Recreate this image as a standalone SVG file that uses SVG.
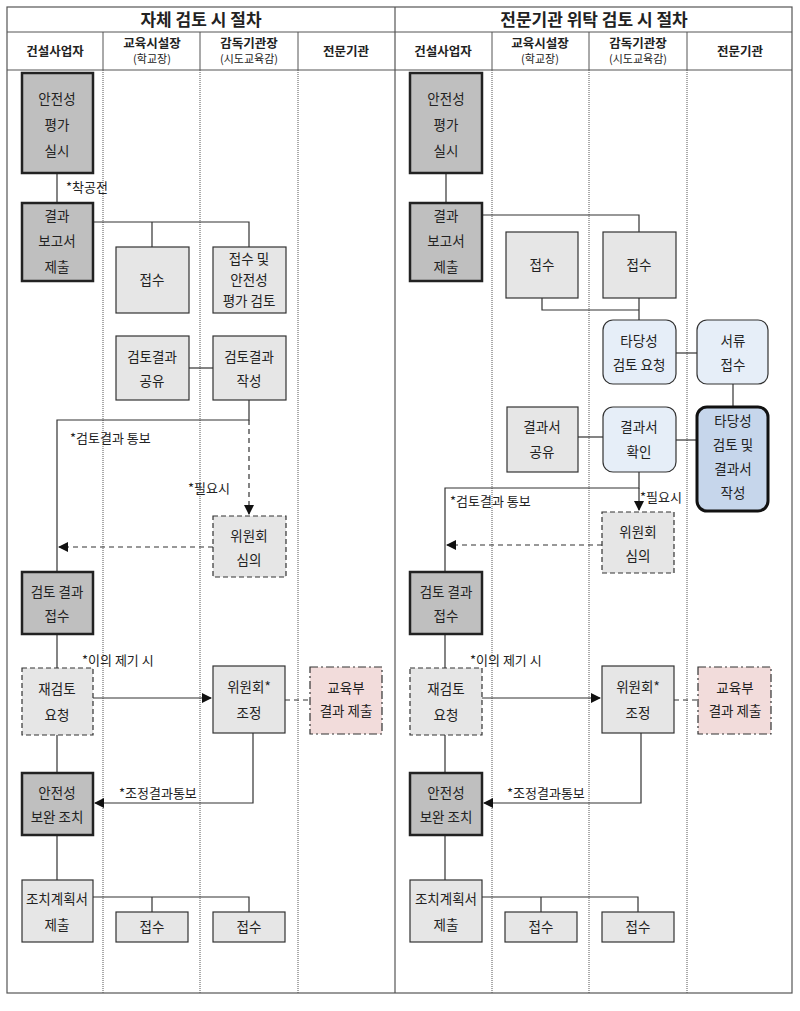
<svg xmlns="http://www.w3.org/2000/svg" width="800" height="1011" viewBox="0 0 800 1011">
<defs>
<style>
text{font-family:"Noto Sans CJK KR","Noto Sans",sans-serif;fill:#222;text-anchor:middle}
.t{font-size:17px;font-weight:bold}
.h{font-size:12.5px;font-weight:bold}
.s{font-size:11px}
.b{font-size:13.5px}
.l{font-size:13px;text-anchor:start}
.dk{fill:#bfbfbf;stroke:#222;stroke-width:2.5}
.lt{fill:#e6e6e6;stroke:#333;stroke-width:1.2}
.ds{fill:#e6e6e6;stroke:#333;stroke-width:1.2;stroke-dasharray:5 3}
.pk{fill:#f2dcdb;stroke:#333;stroke-width:1.2;stroke-dasharray:8 3 2 3}
.bl{fill:#e6eef8;stroke:#333;stroke-width:1.2}
.bb{fill:#c6d6eb;stroke:#111;stroke-width:3}
.ln{fill:none;stroke:#333;stroke-width:1.2}
.dl{fill:none;stroke:#333;stroke-width:1.2;stroke-dasharray:5 4}
.lane{stroke:#555;stroke-width:1;stroke-dasharray:1 1}
</style>
<marker id="a" markerWidth="10" markerHeight="10" refX="9" refY="5" orient="auto" markerUnits="userSpaceOnUse"><path d="M0,0L10,5L0,10z" fill="#111"/></marker>
</defs>
<rect width="800" height="1011" fill="#fff"/>
<g id="frame" fill="none" stroke="#555">
<rect x="7" y="7" width="785" height="986" stroke-width="1.2"/>
<line x1="395" y1="7" x2="395" y2="993" stroke-width="1.2"/>
<line x1="7" y1="32" x2="792" y2="32"/>
<line x1="7" y1="70" x2="792" y2="70"/>
<line x1="103" y1="32" x2="103" y2="70"/><line x1="200" y1="32" x2="200" y2="70"/><line x1="298" y1="32" x2="298" y2="70"/>
<line x1="492" y1="32" x2="492" y2="70"/><line x1="589" y1="32" x2="589" y2="70"/><line x1="687" y1="32" x2="687" y2="70"/>
<line class="lane" x1="103" y1="70" x2="103" y2="993"/><line class="lane" x1="200" y1="70" x2="200" y2="993"/><line class="lane" x1="298" y1="70" x2="298" y2="993"/>
<line class="lane" x1="492" y1="70" x2="492" y2="993"/><line class="lane" x1="589" y1="70" x2="589" y2="993"/><line class="lane" x1="687" y1="70" x2="687" y2="993"/>
</g>
<g id="headers">
<text class="t" x="201" y="26">자체 검토 시 절차</text>
<text class="t" x="594" y="26">전문기관 위탁 검토 시 절차</text>
<text class="h" x="55" y="56">건설사업자</text>
<text class="h" x="152" y="48">교육시설장</text><text class="s" x="152" y="63">(학교장)</text>
<text class="h" x="249" y="48">감독기관장</text><text class="s" x="249" y="63">(시도교육감)</text>
<text class="h" x="346" y="56">전문기관</text>
<text class="h" x="443" y="56">건설사업자</text>
<text class="h" x="540" y="48">교육시설장</text><text class="s" x="540" y="63">(학교장)</text>
<text class="h" x="638" y="48">감독기관장</text><text class="s" x="638" y="63">(시도교육감)</text>
<text class="h" x="740" y="56">전문기관</text>
</g>
<g id="connectors">
<line class="ln" x1="57" y1="173" x2="57" y2="203"/>
<path class="ln" d="M93,222H249V247M152,222V247"/>
<line class="ln" x1="189" y1="368" x2="213" y2="368"/>
<path class="ln" d="M249,400V420H57V572"/>
<path class="dl" d="M249,420V514" marker-end="url(#a)"/>
<path class="dl" d="M213,547H59" marker-end="url(#a)"/>
<line class="ln" x1="57" y1="634" x2="57" y2="668"/>
<path class="ln" d="M93,698H211" marker-end="url(#a)"/>
<path class="dl" d="M285,700H310"/>
<path class="ln" d="M253,733V803H95" marker-end="url(#a)"/>
<path class="ln" d="M57,735V773M57,835V880"/>
<path class="ln" d="M93,897H249V912M152,897V912"/>
<line class="ln" x1="446" y1="173" x2="446" y2="203"/>
<path class="ln" d="M482,215H639V232"/>
<path class="ln" d="M542,298V310H639M639,298V320"/>
<line class="ln" x1="676" y1="353" x2="697" y2="353"/>
<line class="ln" x1="733" y1="384" x2="733" y2="407"/>
<line class="ln" x1="578" y1="437" x2="603" y2="437"/>
<line class="ln" x1="676" y1="440" x2="697" y2="440"/>
<path class="ln" d="M639,472V488H445V572"/>
<path class="ln" d="M639,488V510" marker-end="url(#a)"/>
<path class="dl" d="M602,545H447" marker-end="url(#a)"/>
<line class="ln" x1="445" y1="634" x2="445" y2="668"/>
<path class="ln" d="M482,698H600" marker-end="url(#a)"/>
<path class="dl" d="M674,700H698"/>
<path class="ln" d="M641,733V803H484" marker-end="url(#a)"/>
<path class="ln" d="M445,735V773M445,835V880"/>
<path class="ln" d="M482,897H638V912M541,897V912"/>
</g>
<g id="labels">
<text class="l" x="66" y="192">*착공전</text>
<text class="l" x="70" y="443">*검토결과 통보</text>
<text class="l" x="188" y="493">*필요시</text>
<text class="l" x="82" y="665">*이의 제기 시</text>
<text class="l" x="119" y="798">*조정결과통보</text>
<text class="l" x="450" y="506">*검토결과 통보</text>
<text class="l" x="640" y="502">*필요시</text>
<text class="l" x="470" y="665">*이의 제기 시</text>
<text class="l" x="507" y="798">*조정결과통보</text>
</g>
<g id="L1"><rect class="dk" x="22" y="73" width="71" height="100"/><text class="b" x="57" y="104">안전성</text><text class="b" x="57" y="130">평가</text><text class="b" x="57" y="156">실시</text></g>
<g id="L2"><rect class="dk" x="22" y="203" width="71" height="78"/><text class="b" x="57" y="221">결과</text><text class="b" x="57" y="246">보고서</text><text class="b" x="57" y="272">제출</text></g>
<g id="L3"><rect class="lt" x="116" y="247" width="73" height="66"/><text class="b" x="152" y="285">접수</text></g>
<g id="L4"><rect class="lt" x="213" y="247" width="73" height="66"/><text class="b" x="249" y="264">접수 및</text><text class="b" x="249" y="285">안전성</text><text class="b" x="249" y="306">평가 검토</text></g>
<g id="L5"><rect class="lt" x="116" y="336" width="73" height="64"/><text class="b" x="152" y="362">검토결과</text><text class="b" x="152" y="386">공유</text></g>
<g id="L6"><rect class="lt" x="213" y="336" width="73" height="64"/><text class="b" x="249" y="362">검토결과</text><text class="b" x="249" y="386">작성</text></g>
<g id="L7"><rect class="ds" x="213" y="516" width="73" height="61"/><text class="b" x="249" y="541">위원회</text><text class="b" x="249" y="565">심의</text></g>
<g id="L8"><rect class="dk" x="22" y="572" width="71" height="62"/><text class="b" x="57" y="597">검토 결과</text><text class="b" x="57" y="621">접수</text></g>
<g id="L9"><rect class="ds" x="22" y="668" width="71" height="67"/><text class="b" x="57" y="694">재검토</text><text class="b" x="57" y="720">요청</text></g>
<g id="L10"><rect class="lt" x="213" y="666" width="72" height="67"/><text class="b" x="249" y="692">위원회*</text><text class="b" x="249" y="718">조정</text></g>
<g id="L11"><rect class="pk" x="310" y="667" width="72" height="67"/><text class="b" x="346" y="693">교육부</text><text class="b" x="346" y="716">결과 제출</text></g>
<g id="L12"><rect class="dk" x="22" y="773" width="71" height="62"/><text class="b" x="57" y="798">안전성</text><text class="b" x="57" y="822">보완 조치</text></g>
<g id="L13"><rect class="lt" x="22" y="880" width="71" height="62"/><text class="b" x="57" y="904">조치계획서</text><text class="b" x="57" y="930">제출</text></g>
<g id="L14"><rect class="lt" x="116" y="912" width="72" height="30"/><text class="b" x="152" y="932">접수</text></g>
<g id="L15"><rect class="lt" x="213" y="912" width="72" height="30"/><text class="b" x="249" y="932">접수</text></g>
<g id="R1"><rect class="dk" x="410" y="73" width="72" height="100"/><text class="b" x="446" y="104">안전성</text><text class="b" x="446" y="130">평가</text><text class="b" x="446" y="156">실시</text></g>
<g id="R2"><rect class="dk" x="410" y="203" width="72" height="78"/><text class="b" x="446" y="221">결과</text><text class="b" x="446" y="246">보고서</text><text class="b" x="446" y="272">제출</text></g>
<g id="R3"><rect class="lt" x="506" y="232" width="72" height="66"/><text class="b" x="542" y="270">접수</text></g>
<g id="R4"><rect class="lt" x="603" y="232" width="73" height="66"/><text class="b" x="639" y="270">접수</text></g>
<g id="R5"><rect class="bl" x="603" y="320" width="73" height="64" rx="10"/><text class="b" x="639" y="346">타당성</text><text class="b" x="639" y="370">검토 요청</text></g>
<g id="R6"><rect class="bl" x="697" y="320" width="71" height="64" rx="10"/><text class="b" x="733" y="346">서류</text><text class="b" x="733" y="370">접수</text></g>
<g id="R7"><rect class="lt" x="507" y="407" width="71" height="65"/><text class="b" x="542" y="432">결과서</text><text class="b" x="542" y="457">공유</text></g>
<g id="R8"><rect class="bl" x="603" y="407" width="73" height="65" rx="10"/><text class="b" x="639" y="432">결과서</text><text class="b" x="639" y="457">확인</text></g>
<g id="R9"><rect class="bb" x="697" y="407" width="71" height="104" rx="10"/><text class="b" x="733" y="426">타당성</text><text class="b" x="733" y="450">검토 및</text><text class="b" x="733" y="474">결과서</text><text class="b" x="733" y="498">작성</text></g>
<g id="R10"><rect class="ds" x="602" y="512" width="72" height="61"/><text class="b" x="638" y="537">위원회</text><text class="b" x="638" y="561">심의</text></g>
<g id="R11"><rect class="dk" x="410" y="572" width="72" height="62"/><text class="b" x="446" y="597">검토 결과</text><text class="b" x="446" y="621">접수</text></g>
<g id="R12"><rect class="ds" x="410" y="668" width="72" height="67"/><text class="b" x="446" y="694">재검토</text><text class="b" x="446" y="720">요청</text></g>
<g id="R13"><rect class="lt" x="602" y="666" width="72" height="67"/><text class="b" x="638" y="692">위원회*</text><text class="b" x="638" y="718">조정</text></g>
<g id="R14"><rect class="pk" x="698" y="667" width="73" height="67"/><text class="b" x="735" y="693">교육부</text><text class="b" x="735" y="716">결과 제출</text></g>
<g id="R15"><rect class="dk" x="410" y="773" width="72" height="62"/><text class="b" x="446" y="798">안전성</text><text class="b" x="446" y="822">보완 조치</text></g>
<g id="R16"><rect class="lt" x="410" y="880" width="72" height="62"/><text class="b" x="446" y="904">조치계획서</text><text class="b" x="446" y="930">제출</text></g>
<g id="R17"><rect class="lt" x="505" y="912" width="72" height="30"/><text class="b" x="541" y="932">접수</text></g>
<g id="R18"><rect class="lt" x="602" y="912" width="72" height="30"/><text class="b" x="638" y="932">접수</text></g>
</svg>
